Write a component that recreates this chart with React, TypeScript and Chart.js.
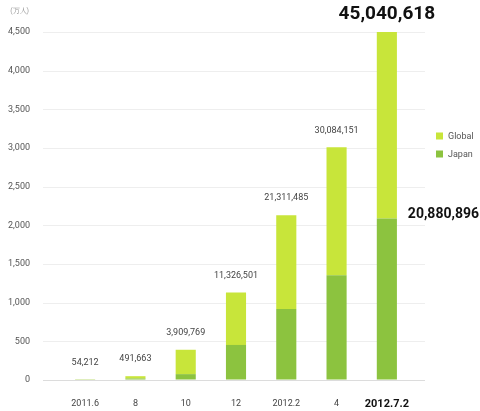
import { useRef, useEffect } from "react"
import { Chart, registerables } from "chart.js"

Chart.register(...registerables)

// categories and values (people); the axis is in 万人 (10,000 people)
const periods = ["2011.6", "8", "10", "12", "2012.2", "4", "2012.7.2"]
const totalUsers = [54212, 491663, 3909769, 11326501, 21311485, 30084151, 45040618]
const japanUsers = [35000, 200000, 760000, 4530000, 9180000, 13540000, 20880896]
const globalUsers = totalUsers.map((t, i) => t - japanUsers[i])
const yTicks = [0, 500, 1000, 1500, 2000, 2500, 3000, 3500, 4000, 4500]
const unitLabel = "(万人)"

const GLOBAL_COLOR = "#c8e53a"
const JAPAN_COLOR = "#8cc33f"
const FONT = "Roboto, 'DejaVu Sans', sans-serif"

const fmt = (n: number) => n.toLocaleString("en-US")
const toMan = (n: number) => n / 10000

const extrasPlugin = {
  id: "extras",
  beforeDatasetsDraw(chart: Chart) {
    const { ctx } = chart
    const y = chart.scales.y
    ctx.save()
    yTicks.forEach((v) => {
      const py = Math.round(y.getPixelForValue(v)) + 0.5
      ctx.strokeStyle = v === 0 ? "#dcdcdc" : "#eeeeee"
      ctx.lineWidth = 1
      ctx.beginPath()
      ctx.moveTo(43, py)
      ctx.lineTo(425, py)
      ctx.stroke()
    })
    ctx.restore()
  },
  afterDraw(chart: Chart) {
    const { ctx } = chart
    const x = chart.scales.x
    const y = chart.scales.y
    const last = periods.length - 1
    ctx.save()
    ctx.textBaseline = "middle"
    ctx.textAlign = "center"
    totalUsers.forEach((t, i) => {
      const px = x.getPixelForValue(i)
      const py = y.getPixelForValue(toMan(t)) - 17
      if (i === last) {
        ctx.font = `bold 19px ${FONT}`
        ctx.fillStyle = "#111"
      } else {
        ctx.font = `9px ${FONT}`
        ctx.fillStyle = "#444"
      }
      ctx.fillText(fmt(t), px, py)
    })
    // Japan figure beside the latest bar
    const jx = x.getPixelForValue(last) + 21
    const jy = y.getPixelForValue(toMan(japanUsers[last])) - 4
    ctx.textAlign = "left"
    ctx.font = `bold 14px ${FONT}`
    ctx.fillStyle = "#111"
    ctx.fillText(fmt(japanUsers[last]), jx, jy)

    // unit label
    ctx.textAlign = "right"
    ctx.font = `7px ${FONT}`
    ctx.fillStyle = "#999"
    ctx.fillText(unitLabel, 29, 11)

    // legend
    const items = [...chart.data.datasets].reverse()
    items.forEach((ds, k) => {
      const cy = 136 + k * 18
      ctx.fillStyle = ds.backgroundColor as string
      ctx.fillRect(436, cy - 3.5, 7, 7)
      ctx.textAlign = "left"
      ctx.font = `9px ${FONT}`
      ctx.fillStyle = "#555"
      ctx.fillText(ds.label as string, 448, cy + 0.5)
    })
    ctx.restore()
  },
}

export default function App() {
  const canvasRef = useRef<HTMLCanvasElement | null>(null)
  const chartRef = useRef<Chart | null>(null)

  useEffect(() => {
    document.body.style.margin = "0"
    if (!canvasRef.current) return
    if (chartRef.current) chartRef.current.destroy()

    const ctx = canvasRef.current.getContext("2d")
    if (ctx) {
      chartRef.current = new Chart(ctx, {
        type: "bar",
        data: {
          labels: periods,
          datasets: [
            {
              label: "Japan",
              data: japanUsers.map(toMan),
              backgroundColor: JAPAN_COLOR,
              barPercentage: 0.4,
              categoryPercentage: 1,
            },
            {
              label: "Global",
              data: globalUsers.map(toMan),
              backgroundColor: GLOBAL_COLOR,
              barPercentage: 0.4,
              categoryPercentage: 1,
            },
          ],
        },
        options: {
          responsive: true,
          maintainAspectRatio: false,
          animation: false,
          layout: { padding: { top: 32, right: 68, bottom: 0, left: 0 } },
          plugins: {
            legend: { display: false },
            tooltip: { enabled: false },
          },
          scales: {
            x: {
              stacked: true,
              // invisible tick marks keep the labels away from the axis
              grid: {
                drawOnChartArea: false,
                drawTicks: true,
                tickLength: 18,
                tickColor: "rgba(0,0,0,0)",
              },
              border: { display: false },
              ticks: {
                padding: 0,
                maxRotation: 0,
                color: (c: any) => (c.index === periods.length - 1 ? "#111" : "#444"),
                font: (c: any) =>
                  c.index === periods.length - 1
                    ? { family: FONT, size: 11, weight: "bold" }
                    : { family: FONT, size: 9 },
              },
              afterFit: (s: any) => {
                s.height = 31
              },
            },
            y: {
              stacked: true,
              min: 0,
              max: 4500,
              grid: {
                drawOnChartArea: false,
                drawTicks: true,
                tickLength: 30,
                tickColor: "rgba(0,0,0,0)",
              },
              border: { display: false },
              ticks: {
                stepSize: 500,
                padding: 0,
                color: "#555",
                font: { family: FONT, size: 9 },
                callback: (v: any) => fmt(Number(v)),
              },
              afterFit: (s: any) => {
                s.width = 60
              },
            },
          },
        },
        plugins: [extrasPlugin],
      })
    }

    return () => {
      if (chartRef.current) {
        chartRef.current.destroy()
        chartRef.current = null
      }
    }
  }, [])

  return (
    <div style={{ position: "relative", width: 480, height: 411 }}>
      <canvas ref={canvasRef} />
    </div>
  )
}
